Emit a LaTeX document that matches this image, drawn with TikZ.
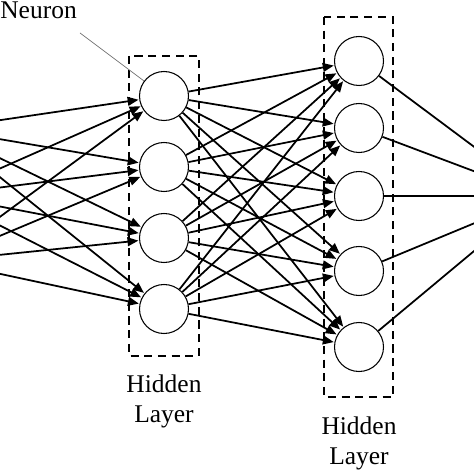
\documentclass[tikz,border=0pt]{standalone}
\usepackage{fontspec}
\setmainfont{Liberation Serif}
\usepackage{tikz}
\usetikzlibrary{arrows.meta,positioning}

\begin{document}
\begin{tikzpicture}[
    >={Triangle[length=6.2pt,width=5pt]},
    font=\fontsize{14.5}{17}\selectfont,
    neuron/.style={draw=black, circle, line width=0.6pt, fill=white,
                   minimum size=0.98cm, inner sep=0pt},
    layerbox/.style={draw=black, line width=0.85pt,
                     dash pattern=on 4.6pt off 3.2pt},
    lab/.style={align=center, inner sep=0pt},
    e/.style={->, draw=black, line width=1pt, shorten >=0.4pt},
    ptr/.style={draw=black!55, line width=0.4pt},
  ]
    \useasboundingbox (0,0) rectangle (9.48,-9.48);
    \clip (0,0) rectangle (9.48,-9.48);
    % --- layer boxes -----------------------------------------------------
    \draw[layerbox] (2.58,-1.12) rectangle (3.98,-7.12);
    \draw[layerbox] (6.48,-0.34) rectangle (7.86,-7.94);
    % --- input side (outside the frame) ------------------------------------
    \coordinate (in1) at (-1.2,-2.58);
    \coordinate (in2) at (-1.2,-3.90);
    \coordinate (in3) at (-1.2,-5.22);
    % --- first hidden layer ----------------------------------------------
    \node[neuron] (ha1) at (3.28,-1.92) {};
    \node[neuron] (ha2) at (3.28,-3.34) {};
    \node[neuron] (ha3) at (3.28,-4.76) {};
    \node[neuron] (ha4) at (3.28,-6.18) {};
    % --- second hidden layer ---------------------------------------------
    \node[neuron] (hb1) at (7.18,-1.22) {};
    \node[neuron] (hb2) at (7.18,-2.56) {};
    \node[neuron] (hb3) at (7.18,-3.92) {};
    \node[neuron] (hb4) at (7.18,-5.42) {};
    \node[neuron] (hb5) at (7.18,-6.94) {};
    % --- output side (outside the frame) -----------------------------------
    \coordinate (out) at (10.8,-3.92);
    % --- labels ----------------------------------------------------------
    \node[lab, anchor=base west] (neu) at (0.0,-0.37) {Neuron};
    \coordinate (ptip) at (1.6,-0.66);
    \node[lab] (lya) at (3.28,-8.02) {Hidden\\Layer};
    \node[lab] (lyb) at (7.18,-8.86) {Hidden\\Layer};
    \draw[ptr] (ptip) -- (ha1);
    % --- edges -----------------------------------------------------------
    \draw[e] (in1) -- (ha1); \draw[e] (in1) -- (ha2);
    \draw[e] (in1) -- (ha3); \draw[e] (in1) -- (ha4);
    \draw[e] (in2) -- (ha1); \draw[e] (in2) -- (ha2);
    \draw[e] (in2) -- (ha3); \draw[e] (in2) -- (ha4);
    \draw[e] (in3) -- (ha1); \draw[e] (in3) -- (ha2);
    \draw[e] (in3) -- (ha3); \draw[e] (in3) -- (ha4);
    \draw[e] (ha1) -- (hb1); \draw[e] (ha1) -- (hb2); \draw[e] (ha1) -- (hb3);
    \draw[e] (ha1) -- (hb4); \draw[e] (ha1) -- (hb5);
    \draw[e] (ha2) -- (hb1); \draw[e] (ha2) -- (hb2); \draw[e] (ha2) -- (hb3);
    \draw[e] (ha2) -- (hb4); \draw[e] (ha2) -- (hb5);
    \draw[e] (ha3) -- (hb1); \draw[e] (ha3) -- (hb2); \draw[e] (ha3) -- (hb3);
    \draw[e] (ha3) -- (hb4); \draw[e] (ha3) -- (hb5);
    \draw[e] (ha4) -- (hb1); \draw[e] (ha4) -- (hb2); \draw[e] (ha4) -- (hb3);
    \draw[e] (ha4) -- (hb4); \draw[e] (ha4) -- (hb5);
    \draw[e] (hb1) -- (out); \draw[e] (hb2) -- (out); \draw[e] (hb3) -- (out);
    \draw[e] (hb4) -- (out); \draw[e] (hb5) -- (out);
  \end{tikzpicture}
\end{document}
